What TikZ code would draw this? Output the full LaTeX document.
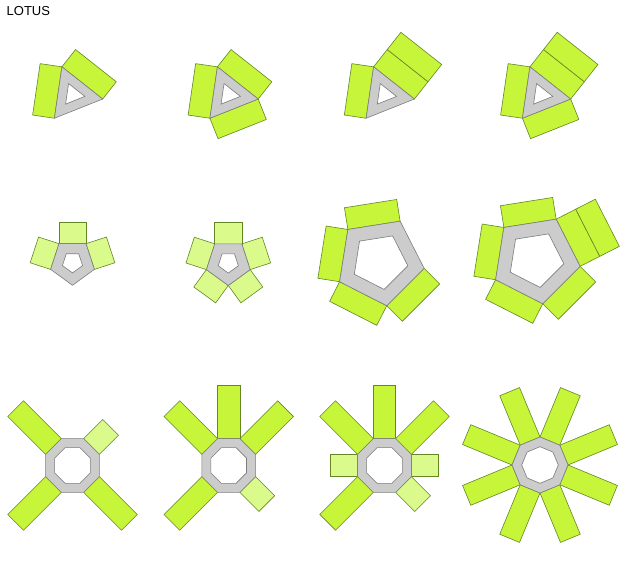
\documentclass[tikz,border=0pt]{standalone}
\usepackage{fontspec}
\setmainfont{Liberation Sans}
\definecolor{brightg}{RGB}{198,245,58}
\definecolor{lightg}{RGB}{218,251,140}
\definecolor{edgeg}{RGB}{100,135,35}
\definecolor{ringg}{RGB}{204,204,204}
\definecolor{ringe}{RGB}{125,125,125}
% polygon path: n, start angle, radius
\newcommand{\lpoly}[3]{(#2:#3) \foreach \k in {1,...,#1}{ -- ({#2+\k*360/#1}:#3)} -- cycle}
% petal rectangle: style, n, R, normal angle, extra offset, depth
\newcommand{\lrect}[6]{\draw[#1, rotate=#4] ({#3*cos(180/#2)+#5},{-#3*sin(180/#2)}) rectangle ++(#6,{2*#3*sin(180/#2)});}
\begin{document}
\begin{tikzpicture}[x=1pt,y=1pt,
  bright/.style={fill=brightg, draw=edgeg, line width=0.6pt, line join=miter},
  light/.style={fill=lightg, draw=edgeg, line width=0.6pt, line join=miter},
  ring/.style={fill=ringg, draw=ringe, even odd rule, line width=0.6pt, line join=miter}]
\useasboundingbox (0,0) rectangle (640,580);
\fill[white] (0,0) rectangle (640,580);
\node[anchor=base west, inner sep=0pt, font=\fontsize{13}{13}\selectfont] (title) at (6.5,564) {LOTUS};

% ---------- row 1: triangles ----------
\begin{scope}[shift={(73,485.3)}]
  \lrect{bright}{3}{30}{171.7}{0}{22}
  \lrect{bright}{3}{30}{51.7}{0}{22}
  \draw[ring] \lpoly{3}{-8.3}{30} \lpoly{3}{-8.3}{12};
\end{scope}
\begin{scope}[shift={(228.5,485.3)}]
  \lrect{bright}{3}{30}{171.7}{0}{22}
  \lrect{bright}{3}{30}{51.7}{0}{22}
  \lrect{bright}{3}{30}{291.7}{0}{22}
  \draw[ring] \lpoly{3}{-8.3}{30} \lpoly{3}{-8.3}{12};
\end{scope}
\begin{scope}[shift={(384.7,485.3)}]
  \lrect{bright}{3}{30}{171.7}{0}{22}
  \lrect{bright}{3}{30}{51.7}{0}{22}
  \lrect{bright}{3}{30}{51.7}{22}{22}
  \draw[ring] \lpoly{3}{-8.3}{30} \lpoly{3}{-8.3}{12};
\end{scope}
\begin{scope}[shift={(541,485.3)}]
  \lrect{bright}{3}{30}{171.7}{0}{22}
  \lrect{bright}{3}{30}{51.7}{0}{22}
  \lrect{bright}{3}{30}{51.7}{22}{22}
  \lrect{bright}{3}{30}{291.7}{0}{22}
  \draw[ring] \lpoly{3}{-8.3}{30} \lpoly{3}{-8.3}{12};
\end{scope}

% ---------- row 2: pentagons ----------
\begin{scope}[shift={(72.5,317.7)}]
  \lrect{light}{5}{23}{90}{0}{21.5}
  \lrect{light}{5}{23}{162}{0}{21.5}
  \lrect{light}{5}{23}{18}{0}{21.5}
  \draw[ring] \lpoly{5}{-18}{23} \lpoly{5}{-18}{10.6};
\end{scope}
\begin{scope}[shift={(228.3,317.5)}]
  \foreach \a in {18,90,162,234,306}{\lrect{light}{5}{23}{\a}{0}{21.5}}
  \draw[ring] \lpoly{5}{-18}{23} \lpoly{5}{-18}{10.6};
\end{scope}
\begin{scope}[shift={(379.7,318.7)}]
  \foreach \a in {99,171,243,315}{\lrect{bright}{5}{45}{\a}{0}{22}}
  \draw[ring] \lpoly{5}{-9}{45} \lpoly{5}{-9}{28.5};
\end{scope}
\begin{scope}[shift={(535.7,320.7)}]
  \foreach \a in {27,99,171,243,315}{\lrect{bright}{5}{45}{\a}{0}{22}}
  \lrect{bright}{5}{45}{27}{22}{22}
  \draw[ring] \lpoly{5}{-9}{45} \lpoly{5}{-9}{28.5};
\end{scope}

% ---------- row 3: octagons ----------
\begin{scope}[shift={(72.5,114.5)}]
  \foreach \a in {135,225,315}{\lrect{bright}{8}{29.1}{\a}{0}{53.5}}
  \lrect{light}{8}{29.1}{45}{0}{27}
  \draw[ring] \lpoly{8}{22.5}{29.1} \lpoly{8}{22.5}{19.3};
\end{scope}
\begin{scope}[shift={(228.7,114.5)}]
  \foreach \a in {45,90,135,225}{\lrect{bright}{8}{29.1}{\a}{0}{53.5}}
  \lrect{light}{8}{29.1}{315}{0}{27}
  \draw[ring] \lpoly{8}{22.5}{29.1} \lpoly{8}{22.5}{19.3};
\end{scope}
\begin{scope}[shift={(384.5,114.5)}]
  \foreach \a in {45,90,135,225}{\lrect{bright}{8}{29.1}{\a}{0}{53.5}}
  \foreach \a in {0,180,315}{\lrect{light}{8}{29.1}{\a}{0}{27}}
  \draw[ring] \lpoly{8}{22.5}{29.1} \lpoly{8}{22.5}{19.3};
\end{scope}
\begin{scope}[shift={(540,115)}]
  \foreach \a in {22.5,67.5,112.5,157.5,202.5,247.5,292.5,337.5}{\lrect{bright}{8}{28}{\a}{0}{53.5}}
  \draw[ring] \lpoly{8}{0}{28} \lpoly{8}{0}{18.3};
\end{scope}
\end{tikzpicture}
\end{document}
